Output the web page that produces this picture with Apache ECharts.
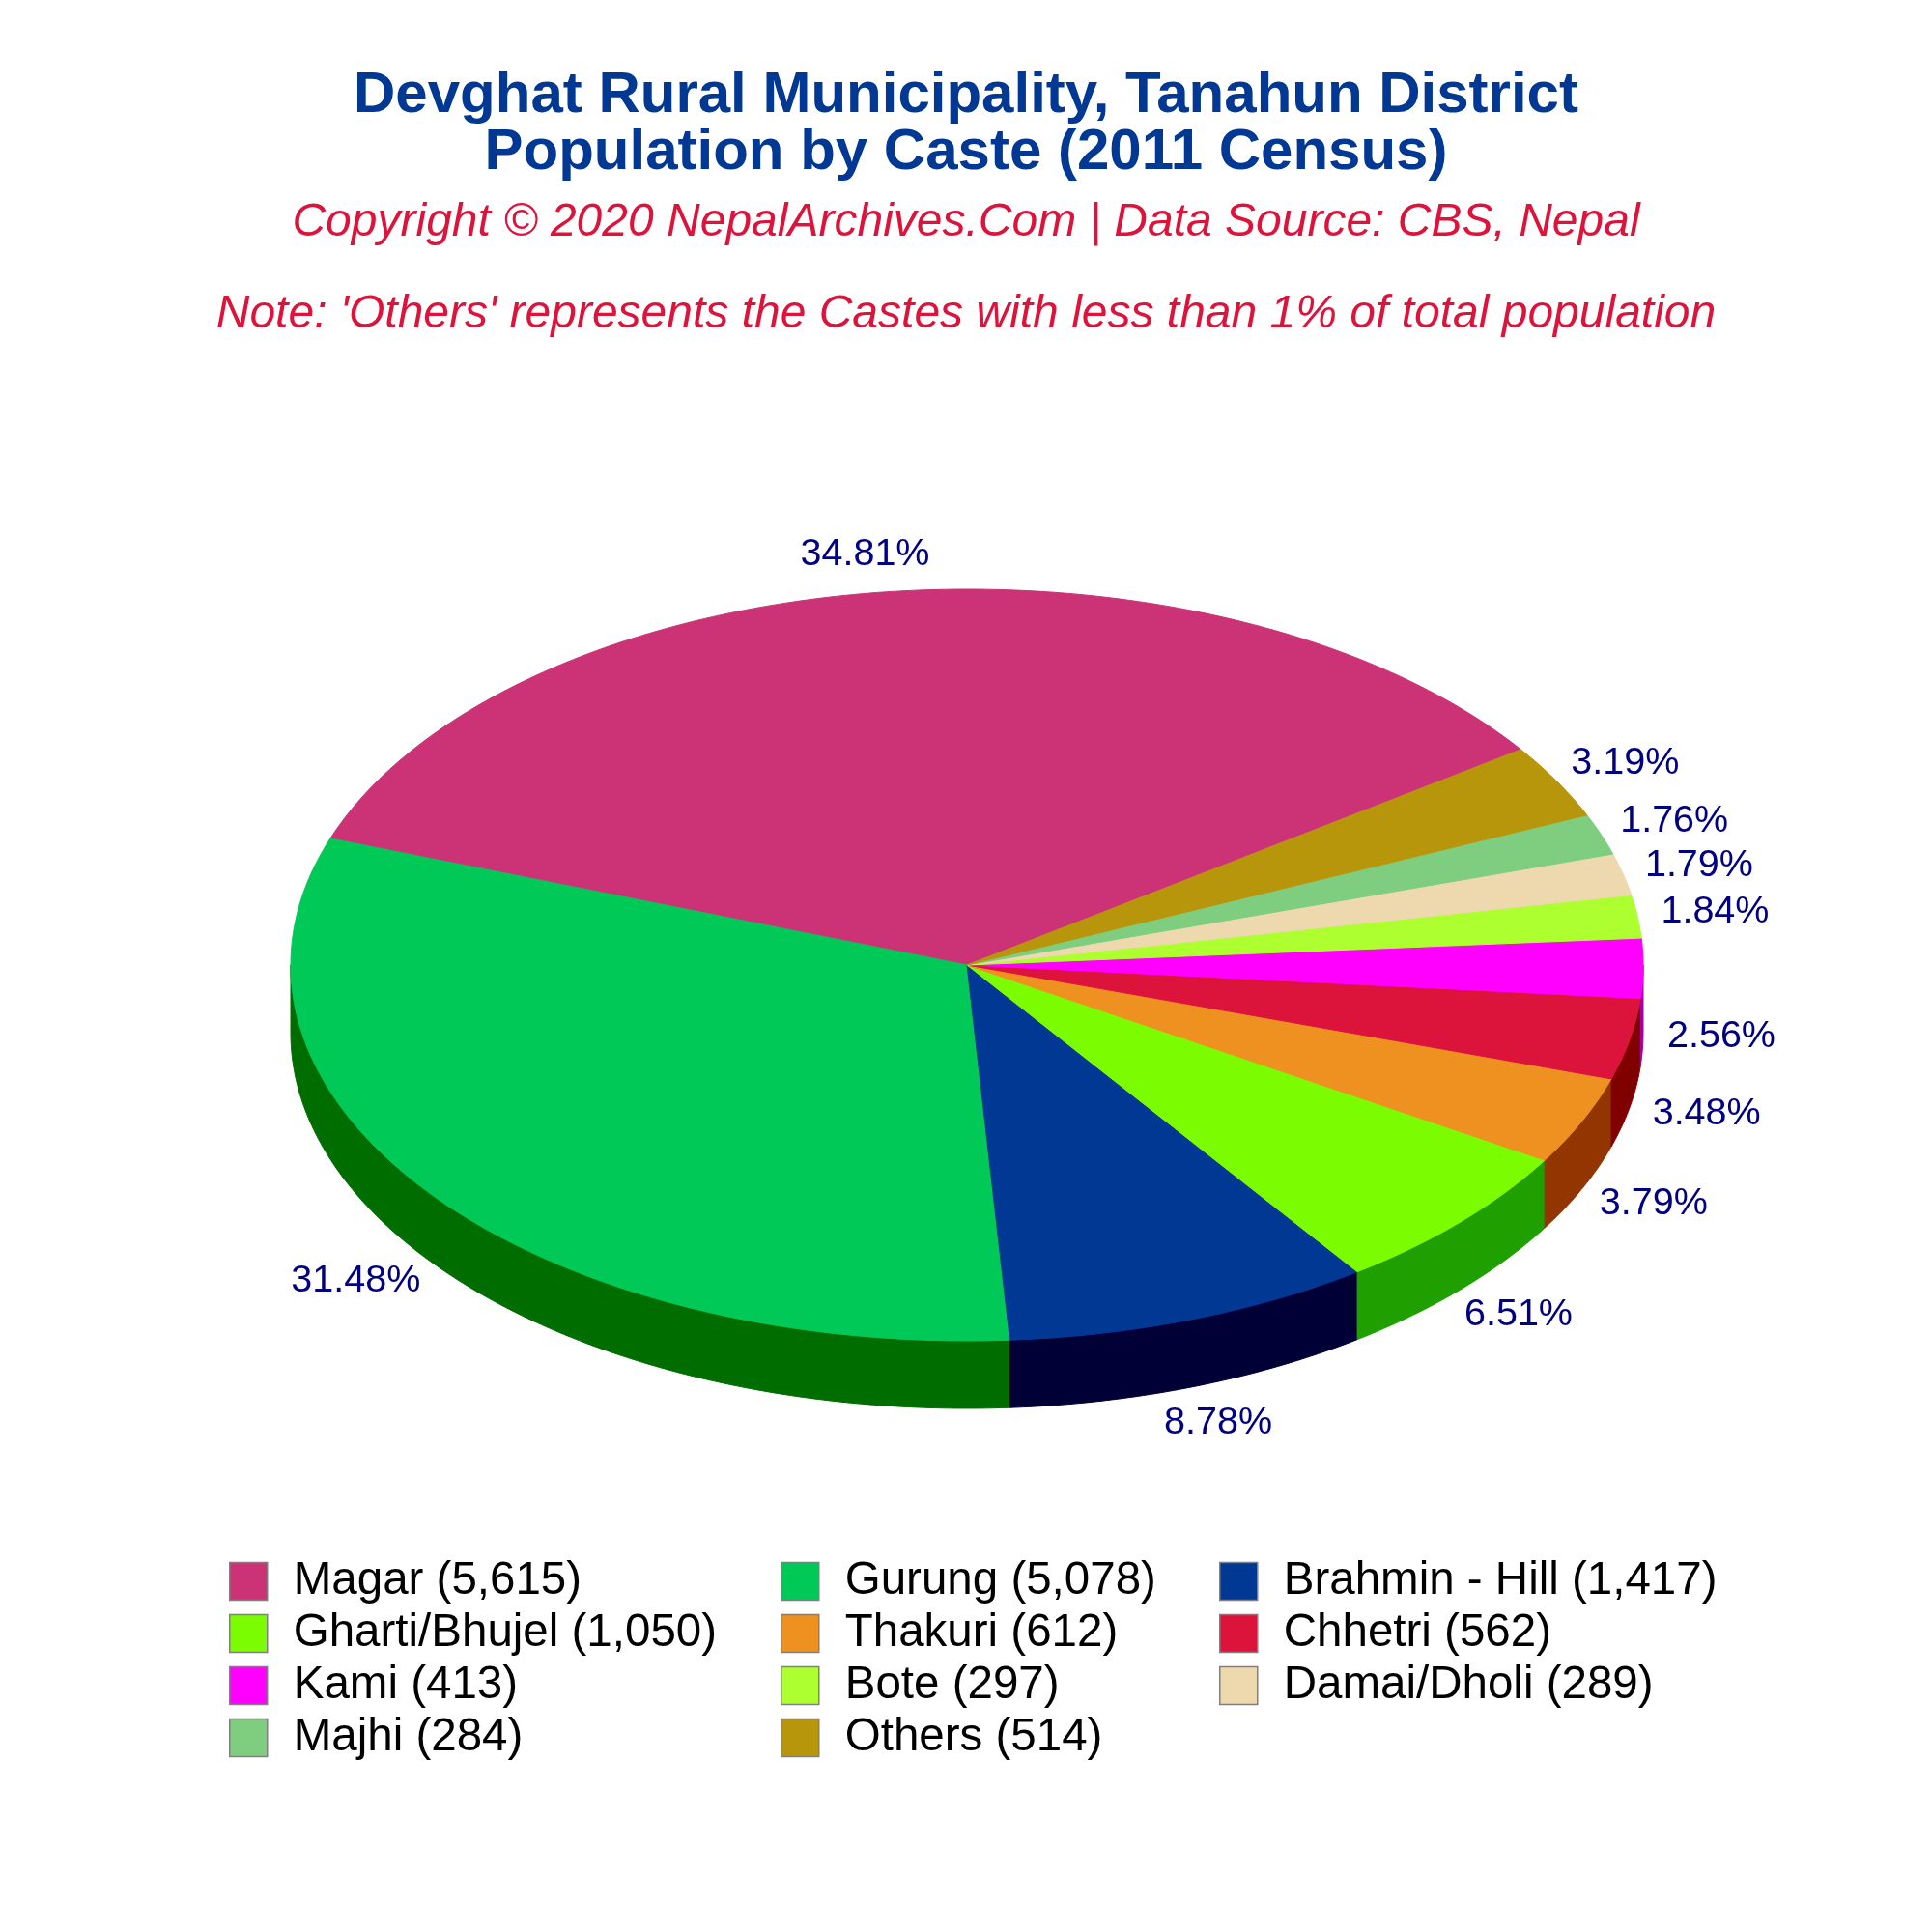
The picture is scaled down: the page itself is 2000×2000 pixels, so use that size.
<!DOCTYPE html>
<html>
<head>
<meta charset="utf-8">
<script src="https://cdn.jsdelivr.net/npm/echarts@6/dist/echarts.min.js"></script>
<style>
html,body{margin:0;padding:0;background:#ffffff;}
#chart{width:2000px;height:2000px;}
</style>
</head>
<body>
<div id="chart"></div>
<script>
// ---------------- data ----------------
const categories = ['Magar', 'Gurung', 'Brahmin - Hill', 'Gharti/Bhujel', 'Thakuri', 'Chhetri', 'Kami', 'Bote', 'Damai/Dholi', 'Majhi', 'Others'];
const populations = [5615, 5078, 1417, 1050, 612, 562, 413, 297, 289, 284, 514];
const sliceColors = ['#CC3377', '#00C957', '#003893', '#7CFC00', '#EE9121', '#DC143C', '#FF00FF', '#ADFF2F', '#EED8AE', '#7FCD7F', '#B8960B'];
const legendColumns = [[0, 3, 6, 9], [1, 4, 7, 10], [2, 5, 8]];
const titleLines = ['Devghat Rural Municipality, Tanahun District', 'Population by Caste (2011 Census)'];
const copyrightText = 'Copyright \u00A9 2020 NepalArchives.Com | Data Source: CBS, Nepal';
const noteText = "Note: 'Others' represents the Castes with less than 1% of total population";

// ---------------- layout / style ----------------
const FONT = 'Arial, "Liberation Sans", Helvetica, sans-serif';
const START_DEG = 35;
const G = { cx: 1001, cy: 999, rx: 700, ry: 389, depth: 70, gap: 25 };
const LABEL_SIZE = 39.5;
const LABEL_COLOR = '#000080';

const total = populations.reduce((a, b) => a + b, 0);
const measureCtx = document.createElement('canvas').getContext('2d');
measureCtx.font = LABEL_SIZE + 'px ' + FONT;

function darker(hex, d) {
  const n = parseInt(hex.slice(1), 16);
  const r = Math.max(0, ((n >> 16) & 255) - d);
  const g = Math.max(0, ((n >> 8) & 255) - d);
  const b = Math.max(0, (n & 255) - d);
  return 'rgb(' + r + ',' + g + ',' + b + ')';
}
function pt(deg, dy) {
  const t = deg * Math.PI / 180;
  return [G.cx + G.rx * Math.cos(t), G.cy - G.ry * Math.sin(t) + (dy || 0)];
}
function arc(a, b, dy) {
  const pts = [];
  const n = Math.max(2, Math.ceil((b - a) / 0.4));
  for (let k = 0; k <= n; k++) pts.push(pt(a + (b - a) * k / n, dy));
  return pts;
}

function makeRender(i) {
  return function (params, api) {
    const v = api.value(0);
    let before = 0;
    for (let k = 0; k < i; k++) before += populations[k];
    const a0 = START_DEG + before / total * 360;
    const a1 = a0 + v / total * 360;
    const col = sliceColors[i];
    const side = darker(col, 92);
    const children = [];
    // front side walls
    [0, 360].forEach(function (off) {
      const lo = Math.max(a0, 180 + off), hi = Math.min(a1, 360 + off);
      if (lo < hi) {
        const top = arc(lo, hi, 0);
        const bot = arc(lo, hi, G.depth).reverse();
        children.push({
          type: 'polygon', z2: 1,
          shape: { points: top.concat(bot) },
          style: { fill: side, stroke: side, lineWidth: 1 }
        });
      }
    });
    // top face
    children.push({
      type: 'polygon', z2: 2,
      shape: { points: [[G.cx, G.cy]].concat(arc(a0, a1, 0)) },
      style: { fill: col, stroke: col, lineWidth: 1 }
    });
    // percentage label
    const m = (a0 + a1) / 2 * Math.PI / 180;
    const c = Math.cos(m), s = Math.sin(m);
    const txt = (v / total * 100).toFixed(2) + '%';
    const w = measureCtx.measureText(txt).width;
    const h = LABEL_SIZE * 0.72;
    let ax = G.cx + (G.rx + G.gap) * c;
    let ay = G.cy - (G.ry + G.gap) * s + (s < 0 ? G.depth : 0);
    children.push({
      type: 'text', z2: 3,
      style: {
        x: ax + w / 2 * c, y: ay - h / 2 * s,
        text: txt, fill: LABEL_COLOR,
        font: LABEL_SIZE + 'px ' + FONT,
        align: 'center', verticalAlign: 'middle'
      }
    });
    return { type: 'group', children: children };
  };
}

const series = categories.map(function (name, i) {
  return {
    type: 'custom',
    name: name,
    coordinateSystem: 'none',
    itemStyle: { color: sliceColors[i] },
    data: [{ name: name, value: populations[i] }],
    renderItem: makeRender(i),
    silent: true
  };
});

const legendLeft = [237, 808, 1262];
const legends = legendColumns.map(function (idxs, c) {
  return {
    orient: 'vertical',
    left: legendLeft[c],
    top: 1613,
    padding: 0,
    itemWidth: 39,
    itemHeight: 39,
    itemGap: 6,
    icon: 'rect',
    selectedMode: false,
    itemStyle: { borderColor: '#808080', borderWidth: 1.5 },
    textStyle: { fontSize: 47.5, fontFamily: FONT, color: '#000000', padding: [0, 0, 0, 22] },
    data: idxs.map(function (k) { return categories[k]; }),
    formatter: function (name) {
      const k = categories.indexOf(name);
      return name + ' (' + populations[k].toLocaleString('en-US') + ')';
    }
  };
});

const chart = echarts.init(document.getElementById('chart'), null, { renderer: 'canvas' });
chart.setOption({
  backgroundColor: '#ffffff',
  animation: false,
  title: [
    {
      text: titleLines.join('\n'), left: 1000, top: 70, padding: 0,
      textAlign: 'center',
      textStyle: { fontSize: 60, fontWeight: 'bold', color: '#003893', fontFamily: FONT, lineHeight: 59 }
    },
    {
      text: copyrightText, left: 1000, top: 207, padding: 0,
      textAlign: 'center',
      textStyle: { fontSize: 48, fontStyle: 'italic', fontWeight: 'normal', color: '#DC143C', fontFamily: FONT, lineHeight: 47 }
    },
    {
      text: noteText, left: 1000, top: 302, padding: 0,
      textAlign: 'center',
      textStyle: { fontSize: 48, fontStyle: 'italic', fontWeight: 'normal', color: '#DC143C', fontFamily: FONT, lineHeight: 47 }
    }
  ],
  legend: legends,
  series: series
});
</script>
</body>
</html>
